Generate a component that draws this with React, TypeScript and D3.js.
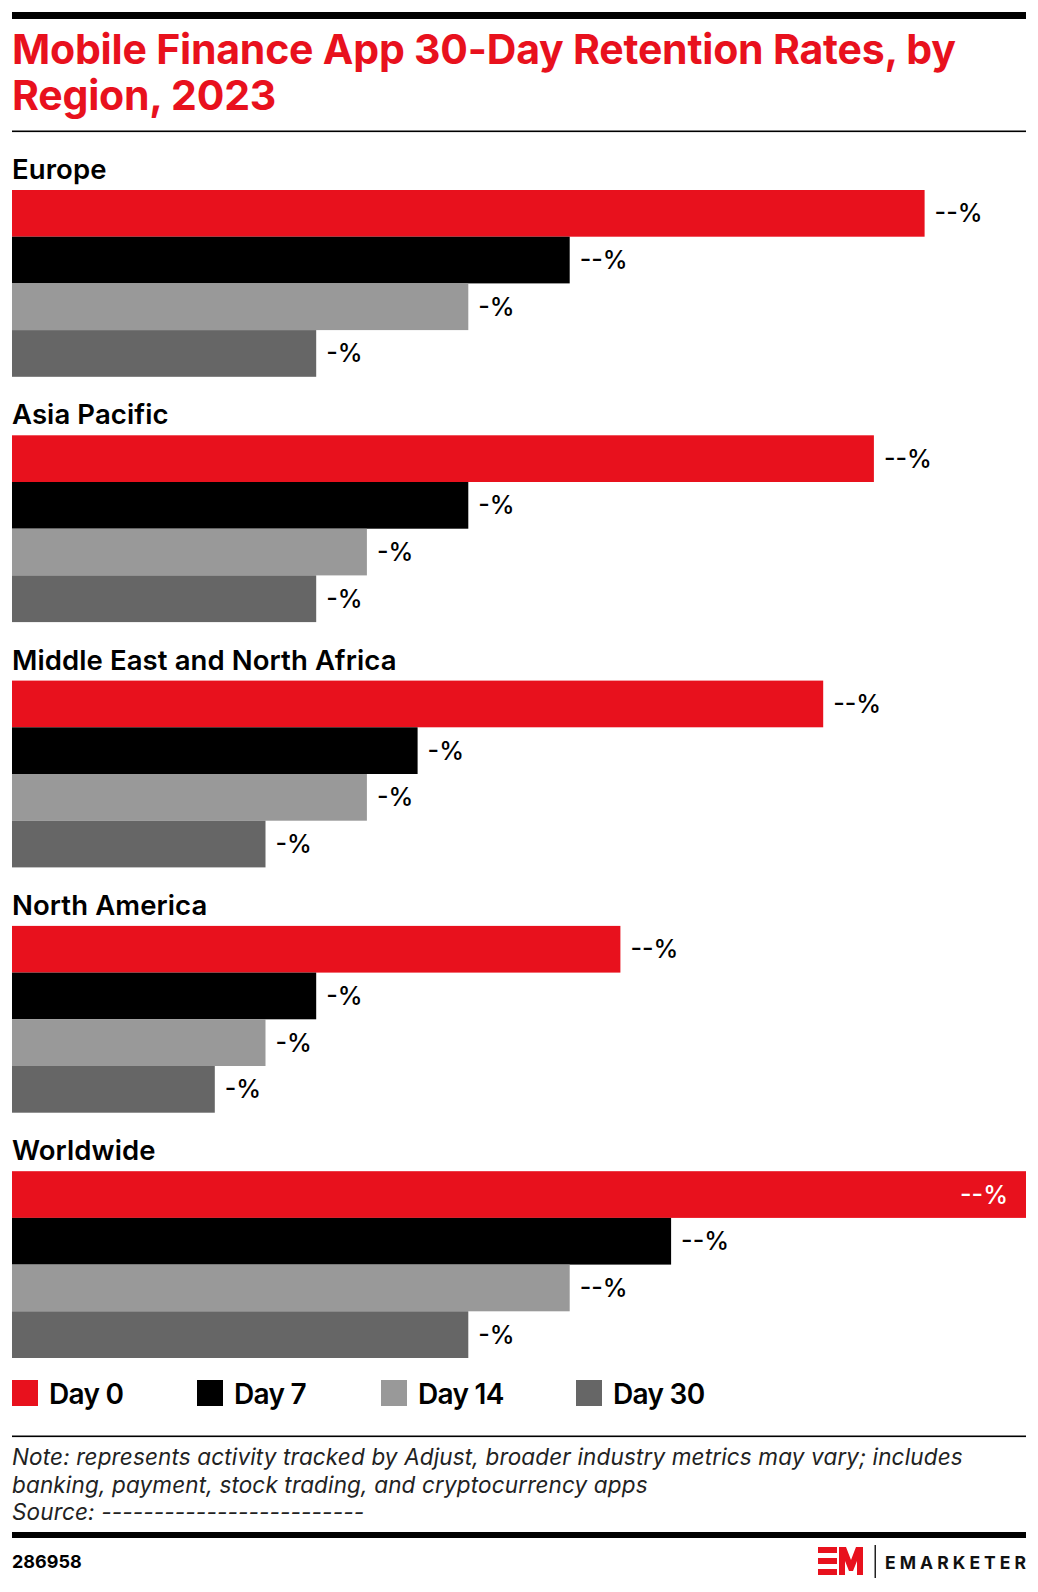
import React from "react";
import * as d3 from "d3";

const regions = ["Europe", "Asia Pacific", "Middle East and North Africa", "North America", "Worldwide"];
const seriesNames = ["Day 0", "Day 7", "Day 14", "Day 30"];
const day0 = [18, 17, 16, 12, 20];
const day7 = [11, 9, 8, 6, 13];
const day14 = [9, 7, 7, 5, 11];
const day30 = [6, 6, 5, 4, 9];
const seriesColors = ["#E8111D", "#000000", "#999999", "#666666"];
const xDomain = [0, 20];
const titleLines = ["Mobile Finance App 30-Day Retention Rates, by", "Region, 2023"];
const noteLines = [
  "Note: represents activity tracked by Adjust, broader industry metrics may vary; includes",
  "banking, payment, stock trading, and cryptocurrency apps",
  "Source: -------------------------",
];
const chartId = "286958";

const W = 1038;
const H = 1592;
const FONT = "Inter, 'Noto Sans', sans-serif";

export default function App() {
  const values = [day0, day7, day14, day30];
  const left = 12;
  const right = 1026;
  const x = d3.scaleLinear().domain(xDomain).range([left, right]);
  const groupStep = 245.3;
  const firstTop = 190;
  const yGroup = d3
    .scaleBand<string>()
    .domain(regions)
    .range([firstTop, firstTop + groupStep * regions.length])
    .paddingInner(0)
    .paddingOuter(0);
  const barH = 46.7;
  const yBar = d3.scaleBand<string>().domain(seriesNames).range([0, barH * 4]).padding(0);
  const fmt = (v: number) => "-".repeat(String(v).length) + "%";
  const legendX = [12, 197, 381, 576];

  return (
    <svg width={W} height={H} style={{ position: "absolute", left: 0, top: 0, background: "#fff" }} fontFamily={FONT}>
      <rect x={0} y={0} width={W} height={H} fill="#fff" />
      <rect x={12} y={12} width={1014} height={7} fill="#000" />
      {titleLines.map((t, i) => (
        <text key={i} x={12} y={64 + i * 46} fontSize={41} fontWeight={700} fill="#E8111D" letterSpacing={-0.2}>
          {t}
        </text>
      ))}
      <rect x={12} y={130.5} width={1014} height={1.6} fill="#000" />

      {regions.map((r, gi) => {
        const gTop = yGroup(r)!;
        return (
          <g key={r}>
            <text x={12} y={gTop - 11} fontSize={27.5} fontWeight={600} fill="#000" letterSpacing={0.1}>
              {r}
            </text>
            {seriesNames.map((s, si) => {
              const v = values[si][gi];
              const y0 = gTop + yBar(s)!;
              const xe = x(v);
              const label = fmt(v);
              const inside = xe + 60 > right;
              return (
                <g key={s}>
                  <rect x={left} y={y0} width={xe - left} height={yBar.bandwidth()} fill={seriesColors[si]} />
                  <text
                    x={inside ? xe - 18 : xe + 10}
                    y={y0 + yBar.bandwidth() / 2}
                    dy="0.36em"
                    textAnchor={inside ? "end" : "start"}
                    fontSize={25}
                    fontWeight={500}
                    fill={inside ? "#fff" : "#000"}
                  >
                    {label}
                  </text>
                </g>
              );
            })}
          </g>
        );
      })}

      {seriesNames.map((s, i) => (
        <g key={s}>
          <rect x={legendX[i]} y={1380} width={26} height={26} fill={seriesColors[i]} />
          <text x={legendX[i] + 37} y={1404} fontSize={28} fontWeight={600} fill="#000" letterSpacing={-0.7}>
            {s}
          </text>
        </g>
      ))}

      <rect x={12} y={1435.5} width={1014} height={1.6} fill="#000" />
      {noteLines.map((t, i) => (
        <text key={i} x={12} y={1465 + i * 27.5} fontSize={22.5} fontStyle="italic" fill="#222" letterSpacing={0.15}>
          {t}
        </text>
      ))}
      <rect x={12} y={1532} width={1014} height={6} fill="#000" />
      <text x={12} y={1568} fontSize={18} fontWeight={700} fill="#000">
        {chartId}
      </text>

      <g>
        <rect x={818} y={1547} width={19} height={6} fill="#E8111D" />
        <rect x={818} y={1558} width={19} height={6} fill="#E8111D" />
        <rect x={818} y={1569} width={19} height={6} fill="#E8111D" />
        <path d="M839,1575 L839,1547 L846,1547 L851,1560 L856,1547 L863,1547 L863,1575 L857,1575 L857,1561 L853,1571 L849,1571 L845,1561 L845,1575 Z" fill="#E8111D" />
        <rect x={874.5} y={1545} width={1.5} height={33} fill="#222" />
        <text x={885} y={1569} fontSize={17.5} fontWeight={700} fill="#111" textLength={141} lengthAdjust="spacing">
          EMARKETER
        </text>
      </g>
    </svg>
  );
}
